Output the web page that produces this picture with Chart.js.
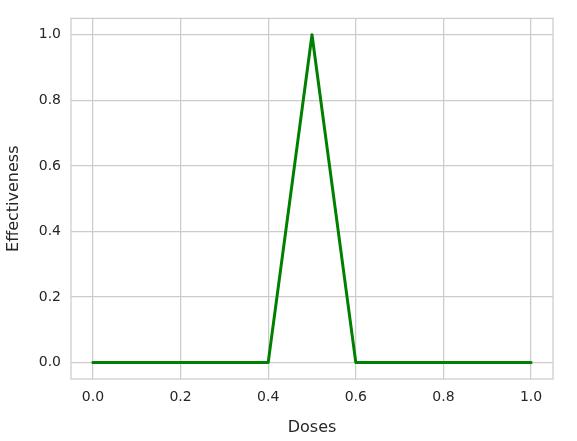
<!DOCTYPE html>
<html><head><meta charset="utf-8">
<script src="https://cdn.jsdelivr.net/npm/chart.js@4/dist/chart.umd.min.js"></script>
<style>html,body{margin:0;padding:0;background:#fff}#w{width:577px;height:441px}</style>
</head><body><div id="w"><canvas id="c"></canvas></div>
<script>
const doses = [0.0,0.1,0.2,0.3,0.4,0.5,0.6,0.7,0.8,0.9,1.0];
const effectiveness = [0,0,0,0,0,1,0,0,0,0,0];
const xTicks = [0,0.2,0.4,0.6,0.8,1.0];
const yTicks = [0,0.2,0.4,0.6,0.8,1.0];
const font = {family:'DejaVu Sans', size:14};
const border = {id:'border', afterDraw(ch){const a=ch.chartArea,c=ch.ctx;c.save();c.strokeStyle='#cccccc';c.lineWidth=1.25;c.strokeRect(a.left,a.top,a.right-a.left,a.bottom-a.top);c.restore();}};
new Chart(document.getElementById('c'),{
type:'line',
data:{datasets:[{data:doses.map((x,i)=>({x,y:effectiveness[i]})),borderColor:'#008000',borderWidth:3,borderJoinStyle:'round',borderCapStyle:'round',pointRadius:0,tension:0}]},
options:{responsive:true,maintainAspectRatio:false,animation:false,
layout:{padding:{top:4,right:24,left:0,bottom:0}},
plugins:{legend:{display:false},tooltip:{enabled:false}},
scales:{
x:{type:'linear',min:-0.05,max:1.05,afterBuildTicks(s){s.ticks=xTicks.map(v=>({value:v}));},
 afterFit(s){s.height=62;},
 grid:{color:'#cccccc',lineWidth:1.25,drawTicks:false},border:{display:false},
 ticks:{color:'#262626',font,padding:10,maxRotation:0,callback:v=>v.toFixed(1)},
 title:{display:true,text:'Doses',color:'#262626',font:{family:'DejaVu Sans',size:16},padding:{top:0}}},
y:{min:-0.05,max:1.05,afterBuildTicks(s){s.ticks=yTicks.map(v=>({value:v}));},
 afterFit(s){s.width=71;},
 grid:{color:'#cccccc',lineWidth:1.25,drawTicks:false},border:{display:false},
 ticks:{color:'#262626',font,padding:10,callback:v=>v.toFixed(1)},
 title:{display:true,text:'Effectiveness',color:'#262626',font:{family:'DejaVu Sans',size:16},padding:{bottom:0}}}
}},plugins:[border]});
</script></body></html>
